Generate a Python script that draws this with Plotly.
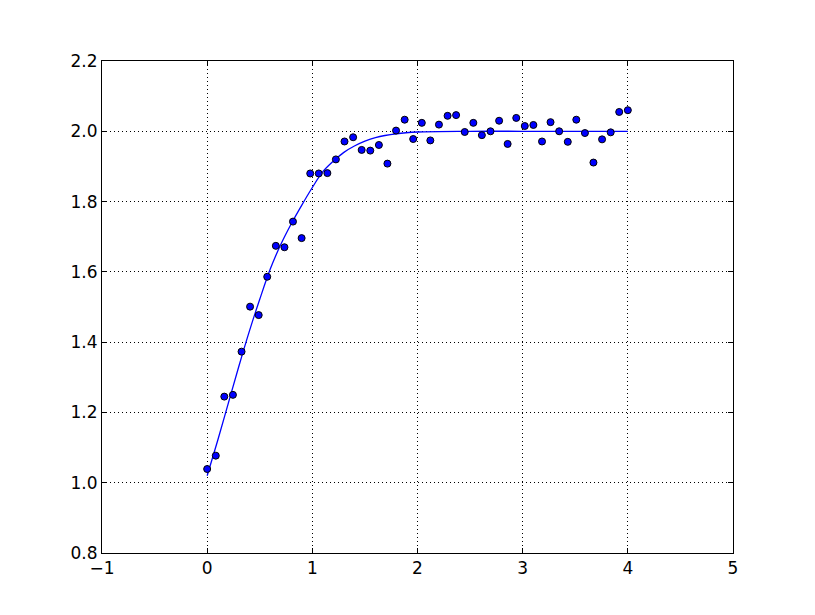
import plotly.graph_objects as go

# Sample points (x spaced evenly from 0 to 4, 50 samples)
x_pts = [
    0.000, 0.082, 0.163, 0.245, 0.327, 0.408, 0.490, 0.571, 0.653, 0.735,
    0.816, 0.898, 0.980, 1.061, 1.143, 1.224, 1.306, 1.388, 1.469, 1.551,
    1.633, 1.714, 1.796, 1.878, 1.959, 2.041, 2.122, 2.204, 2.286, 2.367,
    2.449, 2.531, 2.612, 2.694, 2.776, 2.857, 2.939, 3.020, 3.102, 3.184,
    3.265, 3.347, 3.429, 3.510, 3.592, 3.673, 3.755, 3.837, 3.918, 4.000,
]
y_pts = [
    1.039, 1.077, 1.245, 1.250, 1.373, 1.501, 1.477, 1.586, 1.674, 1.670,
    1.743, 1.696, 1.880, 1.880, 1.881, 1.920, 1.971, 1.983, 1.947, 1.945,
    1.961, 1.908, 2.002, 2.033, 1.978, 2.024, 1.974, 2.019, 2.044, 2.046,
    1.998, 2.024, 1.989, 2.000, 2.030, 1.964, 2.038, 2.015, 2.018, 1.971,
    2.026, 2.000, 1.970, 2.033, 1.995, 1.911, 1.977, 1.997, 2.055, 2.060,
]

# Fitted curve
x_fit = [0.0, 0.1, 0.2, 0.3, 0.4, 0.5, 0.6, 0.7, 0.8, 0.9, 1.0, 1.1, 1.2,
         1.3, 1.4, 1.5, 1.6, 1.8, 2.0, 2.5, 3.0, 3.5, 4.0]
y_fit = [1.02, 1.12, 1.225, 1.33, 1.43, 1.522, 1.608, 1.678, 1.737, 1.79,
         1.84, 1.885, 1.915, 1.94, 1.958, 1.972, 1.982, 1.993, 1.998, 2.0,
         2.0, 2.0, 2.0]

x_ticks = [-1, 0, 1, 2, 3, 4, 5]
y_ticks = [0.8, 1.0, 1.2, 1.4, 1.6, 1.8, 2.0, 2.2]

fig = go.Figure()

fig.add_trace(
    go.Scatter(
        x=x_fit,
        y=y_fit,
        mode="lines",
        line=dict(color="#0000ff", width=1.3, shape="spline"),
        showlegend=False,
    )
)

fig.add_trace(
    go.Scatter(
        x=x_pts,
        y=y_pts,
        mode="markers",
        marker=dict(color="#0000ff", size=7, line=dict(color="black", width=1)),
        showlegend=False,
    )
)

axis_style = dict(
    showline=True,
    linecolor="black",
    linewidth=1,
    mirror="ticks",
    ticks="inside",
    ticklen=5,
    tickcolor="black",
    showgrid=True,
    gridcolor="black",
    gridwidth=1,
    griddash="1px,3px",
    zeroline=False,
    tickfont=dict(family="DejaVu Sans", size=17, color="black"),
)

# page body has an 8px margin, so shrink the figure and margins to match
fig.update_layout(
    width=807,
    height=607,
    margin=dict(l=94, r=82, t=53, b=62),
    paper_bgcolor="white",
    plot_bgcolor="white",
    xaxis=dict(range=[-1, 5], tickvals=x_ticks, **axis_style),
    yaxis=dict(
        range=[0.8, 2.2],
        tickvals=y_ticks,
        ticktext=["%.1f" % v for v in y_ticks],
        **axis_style,
    ),
)

fig.write_html("out.html")
